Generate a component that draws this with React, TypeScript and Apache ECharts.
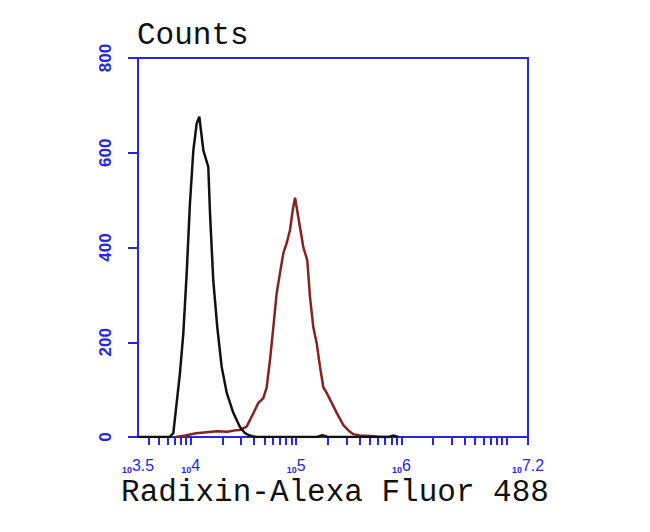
import * as echarts from 'echarts';
import { useEffect, useRef } from 'react';

// x values are log10 of fluorescence intensity, y values are counts
const controlX = [3.5, 3.6, 3.7, 3.8, 3.835, 3.898, 3.93, 3.962, 3.993, 4.025, 4.057, 4.082, 4.12, 4.167, 4.183, 4.214, 4.252, 4.294, 4.342, 4.404, 4.467, 4.515, 4.56, 4.62, 5.2, 5.25, 5.3, 5.88, 5.92, 5.97];
const controlY = [0, 0, 0, 0, 8, 135, 219, 346, 494, 605, 662, 676, 605, 570, 473, 331, 232, 148, 93, 51, 21, 8, 3, 0, 0, 4, 0, 0, 3, 0];

const radixinX = [3.86, 3.95, 4.05, 4.15, 4.25, 4.35, 4.42, 4.468, 4.531, 4.594, 4.642, 4.689, 4.721, 4.752, 4.784, 4.816, 4.847, 4.879, 4.91, 4.942, 4.968, 4.99, 5.021, 5.068, 5.106, 5.132, 5.163, 5.195, 5.227, 5.258, 5.29, 5.338, 5.385, 5.448, 5.511, 5.543, 5.6, 5.7, 5.8, 5.95];
const radixinY = [0, 3, 8, 10, 12, 11, 14, 15, 22, 50, 72, 82, 105, 162, 232, 304, 346, 388, 409, 437, 479, 505, 464, 401, 373, 295, 232, 198, 148, 105, 93, 72, 51, 25, 11, 6, 3, 2, 0, 0];

const xLabelValues = [3.5, 4, 5, 6, 7.2];
const xMinorFactors = [1, 2, 3, 4, 5, 6, 7, 8, 9];
const xDecades = [3, 4, 5, 6, 7];

const BLUE = '#2626e6';

export default function App() {
  const chartRef = useRef<HTMLDivElement>(null);

  useEffect(() => {
    if (!chartRef.current) return;
    const chart = echarts.init(chartRef.current, undefined, { renderer: 'svg' });

    const tickValues: number[] = [];
    xDecades.forEach(d => {
      xMinorFactors.forEach(k => {
        const v = d + Math.log10(k);
        if (v > 3.5 && v <= 7.2) tickValues.push(v);
      });
    });
    tickValues.push(7.2);

    const option: echarts.EChartsOption = {
      animation: false,
      backgroundColor: '#fff',
      grid: {
        left: 138,
        right: 122,
        top: 58,
        bottom: 95,
        show: true,
        borderColor: BLUE,
        borderWidth: 2,
      },
      xAxis: {
        type: 'value',
        min: 3.5,
        max: 7.2,
        axisLine: { lineStyle: { color: BLUE, width: 2 } },
        axisTick: {
          customValues: tickValues,
          length: 8,
          lineStyle: { color: BLUE, width: 2 },
        },
        axisLabel: {
          customValues: xLabelValues,
          margin: 19,
          formatter: (v: number) => `{b|10}{e|${v}}`,
          rich: {
            b: { fontSize: 9, fontWeight: 'bold', color: BLUE, fontFamily: 'Liberation Sans', padding: [9, 0, 0, 0] },
            e: { fontSize: 16, color: BLUE, fontFamily: 'Liberation Sans' },
          },
        },
        splitLine: { show: false },
      },
      yAxis: {
        type: 'value',
        min: 0,
        max: 800,
        interval: 200,
        axisLine: { show: true, lineStyle: { color: BLUE, width: 2 } },
        axisTick: { show: true, length: 10, lineStyle: { color: BLUE, width: 2 } },
        axisLabel: {
          rotate: 90,
          margin: 24,
          color: BLUE,
          fontSize: 17,
          fontWeight: 'bold',
          fontFamily: 'Liberation Sans',
        },
        splitLine: { show: false },
      },
      graphic: [
        {
          type: 'text',
          left: 137,
          top: 20,
          style: { text: 'Counts', font: '31px "Liberation Mono"', fill: '#111' },
        },
        {
          type: 'text',
          x: 335,
          y: 492,
          style: {
            text: 'Radixin-Alexa Fluor 488',
            font: '31px "Liberation Mono"',
            fill: '#111',
            align: 'center',
            verticalAlign: 'middle',
          },
        },
      ],
      series: [
        {
          name: 'Control',
          type: 'line',
          data: controlX.map((x, i) => [x, controlY[i]]),
          showSymbol: false,
          lineStyle: { color: '#111', width: 2.5 },
          z: 3,
        },
        {
          name: 'Radixin',
          type: 'line',
          data: radixinX.map((x, i) => [x, radixinY[i]]),
          showSymbol: false,
          lineStyle: { color: '#862222', width: 2.5 },
          z: 2,
        },
      ],
    };

    chart.setOption(option);
    return () => {
      chart.dispose();
    };
  }, []);

  return <div ref={chartRef} style={{ position: 'fixed', left: 0, top: 0, width: 650, height: 532 }} />;
}
